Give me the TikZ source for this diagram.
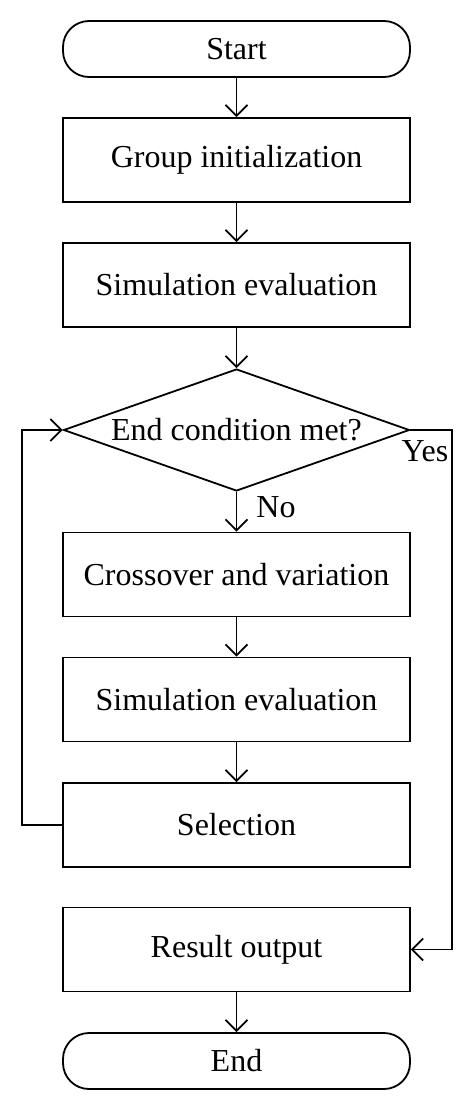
\documentclass[tikz,border=0pt]{standalone}
\usepackage{fontspec}
\setmainfont{Liberation Serif}
\usetikzlibrary{arrows.meta,shapes.geometric}
\begin{document}
\begin{tikzpicture}[x=1pt,y=-1pt,
  every node/.style={font=\fontsize{32}{36}\selectfont},
  proc/.style={draw, line width=1.8pt, minimum width=347pt, minimum height=84pt, inner sep=0pt},
  term/.style={draw, line width=1.8pt, minimum width=347pt, minimum height=56pt, inner sep=0pt, rounded corners=26pt},
  decis/.style={draw, line width=1.8pt, diamond, aspect=2.84, minimum width=346pt, minimum height=122pt, inner sep=0pt},
  conn/.style={line width=1.8pt, -{Straight Barb[length=11pt,width=22pt,line width=1.8pt]}},
  lbl/.style={inner sep=0pt}
]
\useasboundingbox (0,0) rectangle (474,1111);
\node[term]  (start) at (236.5,49)    {Start};
\node[proc]  (init)  at (236.5,160)   {Group initialization};
\node[proc]  (sim1)  at (236.5,285)   {Simulation evaluation};
\node[decis] (dec)   at (236.5,430)   {End condition met?};
\node[proc]  (cross) at (236.5,574.5) {Crossover and variation};
\node[proc]  (sim2)  at (236.5,699.5) {Simulation evaluation};
\node[proc]  (sel)   at (236.5,825)   {Selection};
\node[proc]  (res)   at (236.5,949.5) {Result output};
\node[term]  (end)   at (236.5,1061)  {End};
\coordinate (lx) at (22,0);
\coordinate (rx) at (452,0);
\draw[conn] (start) -- (init);
\draw[conn] (init) -- (sim1);
\draw[conn] (sim1) -- (dec);
\draw[conn] (dec) -- (cross);
\draw[conn] (cross) -- (sim2);
\draw[conn] (sim2) -- (sel);
\draw[conn] (res) -- (end);
\draw[conn] (sel.west) -- (sel.west -| lx) -- (lx |- dec.west) -- (dec.west);
\draw[conn] (dec.east) -- (rx |- dec.east) -- (rx |- res.east) -- (res.east);
\node[lbl] (yes) at (425,451) {Yes};
\node[lbl] (no)  at (276,507) {No};
\end{tikzpicture}
\end{document}
